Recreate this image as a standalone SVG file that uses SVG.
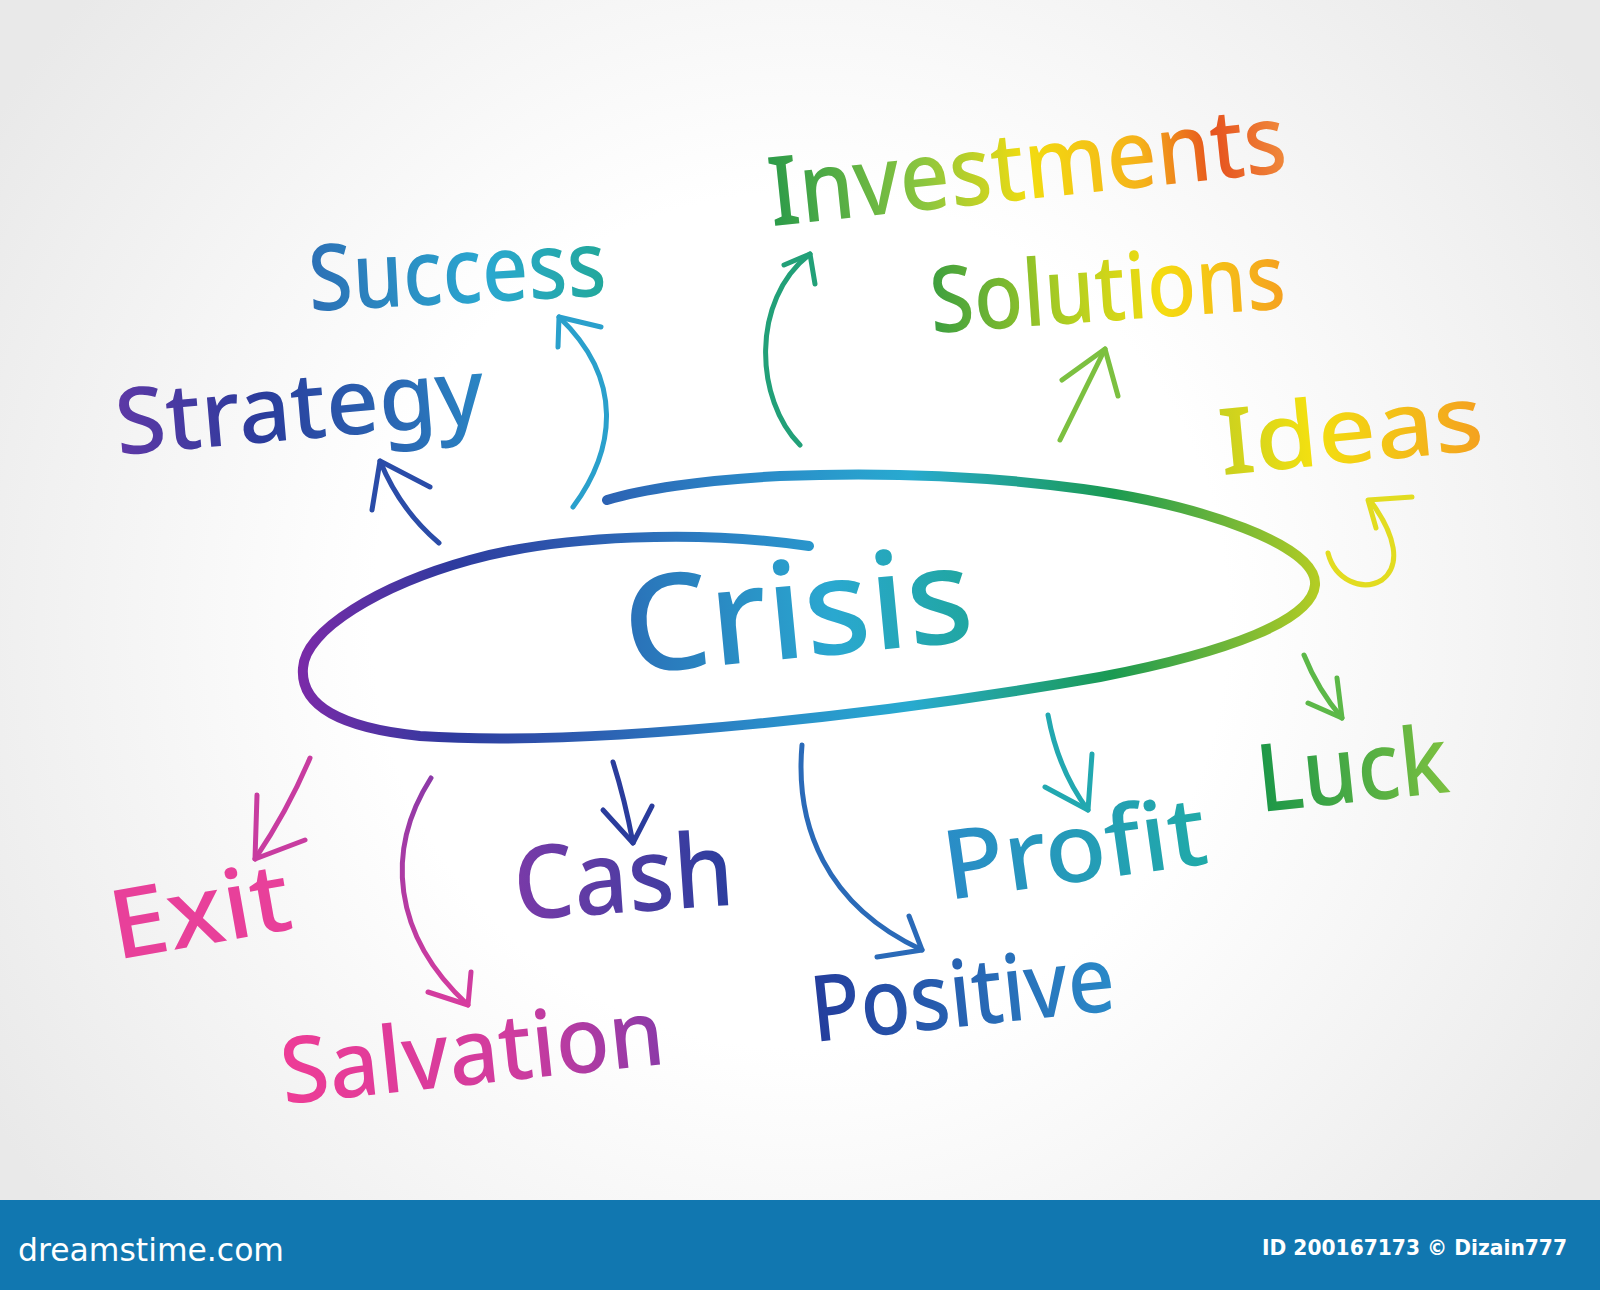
<svg xmlns="http://www.w3.org/2000/svg" width="1600" height="1290" viewBox="0 0 1600 1290">
<defs>
<radialGradient id="bg" cx="800" cy="620" r="950" gradientUnits="userSpaceOnUse">
<stop offset="0.45" stop-color="#ffffff"/><stop offset="1" stop-color="#e9e9e9"/>
</radialGradient>
<linearGradient id="gLoop" x1="300" y1="0" x2="1316" y2="0" gradientUnits="userSpaceOnUse">
<stop offset="0" stop-color="#7a2aa8"/><stop offset="0.15" stop-color="#2e3a9e"/><stop offset="0.45" stop-color="#2a8ac8"/><stop offset="0.6" stop-color="#28aad0"/><stop offset="0.8" stop-color="#1a9a52"/><stop offset="1" stop-color="#b2cc24"/>
</linearGradient>
<linearGradient id="gInv"><stop offset="0" stop-color="#2a9a4a"/><stop offset="0.3" stop-color="#8cc63e"/><stop offset="0.5" stop-color="#f2dc10"/><stop offset="0.72" stop-color="#f5b21a"/><stop offset="0.86" stop-color="#e6521e"/><stop offset="1" stop-color="#f08a3c"/></linearGradient>
<linearGradient id="gSol"><stop offset="0" stop-color="#3a9e40"/><stop offset="0.4" stop-color="#b4d020"/><stop offset="0.65" stop-color="#f5dc10"/><stop offset="1" stop-color="#f5a020"/></linearGradient>
<linearGradient id="gSuc"><stop offset="0" stop-color="#2c6fb5"/><stop offset="0.6" stop-color="#2aa8d0"/><stop offset="1" stop-color="#22a89a"/></linearGradient>
<linearGradient id="gStr"><stop offset="0" stop-color="#5e38a6"/><stop offset="0.4" stop-color="#2a3c9c"/><stop offset="1" stop-color="#2a86c4"/></linearGradient>
<linearGradient id="gIde"><stop offset="0" stop-color="#c8d020"/><stop offset="0.35" stop-color="#f3e010"/><stop offset="1" stop-color="#f4a020"/></linearGradient>
<linearGradient id="gCri"><stop offset="0" stop-color="#2a70b8"/><stop offset="0.6" stop-color="#2aa8d0"/><stop offset="1" stop-color="#20a6a0"/></linearGradient>
<linearGradient id="gLuc"><stop offset="0" stop-color="#1a9648"/><stop offset="1" stop-color="#7cc040"/></linearGradient>
<linearGradient id="gPro"><stop offset="0" stop-color="#2a8cc8"/><stop offset="1" stop-color="#20aaa8"/></linearGradient>
<linearGradient id="gPos"><stop offset="0" stop-color="#243c9c"/><stop offset="1" stop-color="#2a8ac8"/></linearGradient>
<linearGradient id="gCas"><stop offset="0" stop-color="#7a3aa8"/><stop offset="1" stop-color="#2a3e9e"/></linearGradient>
<linearGradient id="gSal"><stop offset="0" stop-color="#ee3c96"/><stop offset="0.6" stop-color="#d03c9e"/><stop offset="1" stop-color="#8a3aa8"/></linearGradient>
<linearGradient id="gSalA" x1="0" y1="770" x2="0" y2="1010" gradientUnits="userSpaceOnUse"><stop offset="0" stop-color="#8a3aa8"/><stop offset="1" stop-color="#d83c9e"/></linearGradient>
</defs>
<style>
.w{font-family:"Noto Sans","Open Sans",sans-serif;font-weight:500}
.a{fill:none;stroke-width:5;stroke-linecap:round;stroke-linejoin:round}
.bar{font-family:"DejaVu Sans",sans-serif;fill:#ffffff}
</style>
<rect x="0" y="0" width="1600" height="1200" fill="url(#bg)"/>

<g id="connectors">
<g id="arrow-strategy" stroke="#2a4ca8" class="a"><path d="M439,543 Q400,510 380,461"/><path d="M372,510 L380,461 L430,487"/></g>
<g id="arrow-success" stroke="#2aa0cc" class="a"><path d="M573,507 C615,450 625,380 559,317"/><path d="M558,347 L559,317 L601,327"/></g>
<g id="arrow-investments" stroke="#22a078" class="a"><path d="M800,445 C755,400 750,300 810,254"/><path d="M784,265 L810,254 L815,284"/></g>
<g id="arrow-solutions" stroke="#7cc040" class="a"><path d="M1060,440 L1105,349"/><path d="M1062,380 L1105,349 L1118,396"/></g>
<g id="arrow-ideas" stroke="#e2dc20" class="a"><path d="M1328,553 C1335,580 1362,592 1382,580 C1402,565 1395,535 1372,503"/><path d="M1412,497 L1368,500 L1376,528"/></g>
<g id="arrow-luck" stroke="#5cb848" class="a"><path d="M1304,655 Q1318,690 1342,718"/><path d="M1308,703 L1342,718 L1337,678"/></g>
<g id="arrow-profit" stroke="#22a8b0" class="a"><path d="M1048,715 Q1058,770 1088,810"/><path d="M1045,787 L1088,810 L1092,754"/></g>
<g id="arrow-positive" stroke="#2a6ab8" class="a"><path d="M802,745 C795,825 825,905 922,950"/><path d="M877,957 L922,950 L909,916"/></g>
<g id="arrow-cash" stroke="#2a3c9c" class="a"><path d="M613,762 Q625,800 633,843"/><path d="M603,810 L633,843 L652,806"/></g>
<g id="arrow-exit" stroke="#c83ca0" class="a"><path d="M310,758 Q288,810 255,859"/><path d="M257,795 L255,859 L305,840"/></g>
<g id="arrow-salvation" stroke="url(#gSalA)" class="a"><path d="M431,778 C385,850 392,935 468,1005"/><path d="M428,992 L468,1005 L471,972"/></g>
</g>

<g id="node-crisis">
<path d="M809,546 C700,530 560,535 470,560 C380,585 305,630 303,668 C300,705 340,728 420,736 C600,748 900,712 1100,677 C1230,652 1312,620 1315,585 C1318,545 1200,505 1083,489 C980,475 880,472 780,476 C700,480 640,490 607,500" fill="none" stroke="url(#gLoop)" stroke-width="10" stroke-linecap="round"/>
<text class="w" x="628" y="674" font-size="134" fill="url(#gCri)" textLength="350" lengthAdjust="spacingAndGlyphs" transform="rotate(-5.5 628 674)">Crisis</text>
</g>
<g id="node-investments"><text class="w" x="772" y="226" font-size="96" fill="url(#gInv)" textLength="520" lengthAdjust="spacingAndGlyphs" transform="rotate(-6 772 226)">Investments</text></g>
<g id="node-solutions"><text class="w" x="932" y="333" font-size="92" fill="url(#gSol)" textLength="356" lengthAdjust="spacingAndGlyphs" transform="rotate(-4 932 333)">Solutions</text></g>
<g id="node-success"><text class="w" x="310" y="311" font-size="92" fill="url(#gSuc)" textLength="298" lengthAdjust="spacingAndGlyphs" transform="rotate(-3 310 311)">Success</text></g>
<g id="node-strategy"><text class="w" x="118" y="455" font-size="92" fill="url(#gStr)" textLength="370" lengthAdjust="spacingAndGlyphs" transform="rotate(-5 118 455)">Strategy</text></g>
<g id="node-ideas"><text class="w" x="1222" y="475" font-size="92" fill="url(#gIde)" textLength="265" lengthAdjust="spacingAndGlyphs" transform="rotate(-5.5 1222 475)">Ideas</text></g>
<g id="node-luck"><text class="w" x="1260" y="812" font-size="94" fill="url(#gLuc)" textLength="192" lengthAdjust="spacingAndGlyphs" transform="rotate(-6 1260 812)">Luck</text></g>
<g id="node-profit"><text class="w" x="948" y="900" font-size="96" fill="url(#gPro)" textLength="265" lengthAdjust="spacingAndGlyphs" transform="rotate(-8 948 900)">Profit</text></g>
<g id="node-positive"><text class="w" x="814" y="1042" font-size="92" fill="url(#gPos)" textLength="305" lengthAdjust="spacingAndGlyphs" transform="rotate(-6 814 1042)">Positive</text></g>
<g id="node-cash"><text class="w" x="516" y="920" font-size="102" fill="url(#gCas)" textLength="220" lengthAdjust="spacingAndGlyphs" transform="rotate(-4 516 920)">Cash</text></g>
<g id="node-exit"><text class="w" x="116" y="960" font-size="96" fill="#e8409a" textLength="182" lengthAdjust="spacingAndGlyphs" transform="rotate(-10 116 960)">Exit</text></g>
<g id="node-salvation"><text class="w" x="284" y="1104" font-size="92" fill="url(#gSal)" textLength="385" lengthAdjust="spacingAndGlyphs" transform="rotate(-6 284 1104)">Salvation</text></g>

<g id="footer">
<rect x="0" y="1200" width="1600" height="90" fill="#1177b0"/>
<text class="bar" x="18" y="1261" font-size="32" textLength="266" lengthAdjust="spacingAndGlyphs">dreamstime.com</text>
<text class="bar" x="1262" y="1255" font-size="22" font-weight="bold" textLength="305" lengthAdjust="spacingAndGlyphs">ID 200167173 © Dizain777</text>
</g>
</svg>
